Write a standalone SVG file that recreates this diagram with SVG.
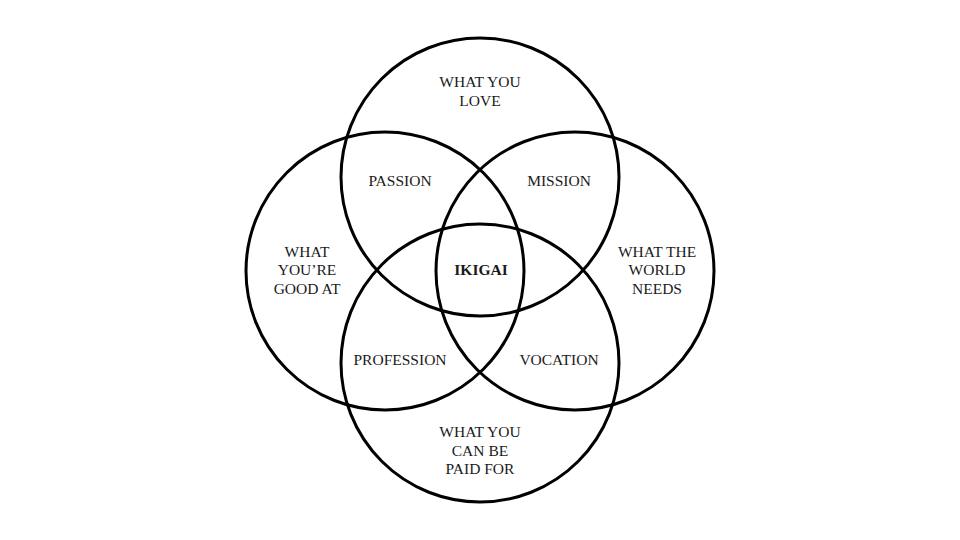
<svg xmlns="http://www.w3.org/2000/svg" width="960" height="540" viewBox="0 0 960 540">
<style>
.c{fill:none;stroke:#000;stroke-width:3}
.t{font-family:"Liberation Serif","Times New Roman",serif;font-size:15.5px;fill:#1a1a1a;text-anchor:middle}
.b{font-weight:bold}
</style>
<rect width="960" height="540" fill="#fff"/>
<g id="connectors"></g>
<g id="love"><circle class="c" cx="480" cy="177" r="139"/>
<text class="t" x="480" y="87">WHAT YOU</text><text class="t" x="480" y="106">LOVE</text></g>
<g id="good"><circle class="c" cx="385" cy="271" r="139"/>
<text class="t" x="307" y="257">WHAT</text><text class="t" x="307" y="275">YOU’RE</text><text class="t" x="307" y="294">GOOD AT</text></g>
<g id="world"><circle class="c" cx="575" cy="271" r="139"/>
<text class="t" x="657" y="257">WHAT THE</text><text class="t" x="657" y="275">WORLD</text><text class="t" x="657" y="294">NEEDS</text></g>
<g id="paid"><circle class="c" cx="480" cy="363" r="139"/>
<text class="t" x="480" y="437">WHAT YOU</text><text class="t" x="480" y="456">CAN BE</text><text class="t" x="480" y="474">PAID FOR</text></g>
<g id="passion"><text class="t" x="400" y="186">PASSION</text></g>
<g id="mission"><text class="t" x="559" y="186">MISSION</text></g>
<g id="profession"><text class="t" x="400" y="365">PROFESSION</text></g>
<g id="vocation"><text class="t" x="559" y="365">VOCATION</text></g>
<g id="ikigai"><text class="t b" x="481" y="275">IKIGAI</text></g>
</svg>
